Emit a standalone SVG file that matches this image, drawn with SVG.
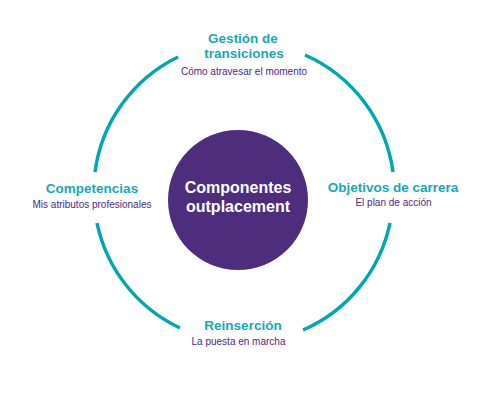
<svg xmlns="http://www.w3.org/2000/svg" width="500" height="400" viewBox="0 0 500 400">
<style>
.arc{fill:none;stroke:#00A7B1;stroke-width:3.5}
.t{font-family:"Liberation Sans",Arial,sans-serif;font-size:13.5px;font-weight:bold;fill:#1AA7B0;text-anchor:middle}
.s{font-family:"Liberation Sans",Arial,sans-serif;font-size:10px;fill:#4B2A7B;text-anchor:middle}
.c{font-family:"Liberation Sans",Arial,sans-serif;font-size:16px;font-weight:bold;fill:#ffffff;text-anchor:middle}
</style>
<rect width="500" height="400" fill="#ffffff"/>
<g id="connectors">
<path class="arc" d="M178,57 A150,150 0 0 0 95,172"/>
<path class="arc" d="M305,55 A150,150 0 0 1 393,172"/>
<path class="arc" d="M97,223 A150,150 0 0 0 180,328"/>
<path class="arc" d="M390,223 A150,150 0 0 1 303,330"/>
</g>
<g id="center">
<circle cx="238" cy="200" r="70" fill="#4E2D7C"/>
<text class="c" x="238" y="193">Componentes</text>
<text class="c" x="238" y="212">outplacement</text>
</g>
<g id="gestion">
<text class="t" x="243" y="43">Gestión de</text>
<text class="t" x="244" y="58">transiciones</text>
<text class="s" x="244" y="75">Cómo atravesar el momento</text>
</g>
<g id="competencias">
<text class="t" x="92" y="193">Competencias</text>
<text class="s" x="92" y="208">Mis atributos profesionales</text>
</g>
<g id="objetivos">
<text class="t" x="393" y="192">Objetivos de carrera</text>
<text class="s" x="393.5" y="206">El plan de acción</text>
</g>
<g id="reinsercion">
<text class="t" x="243" y="330">Reinserción</text>
<text class="s" x="238.5" y="345">La puesta en marcha</text>
</g>
</svg>
